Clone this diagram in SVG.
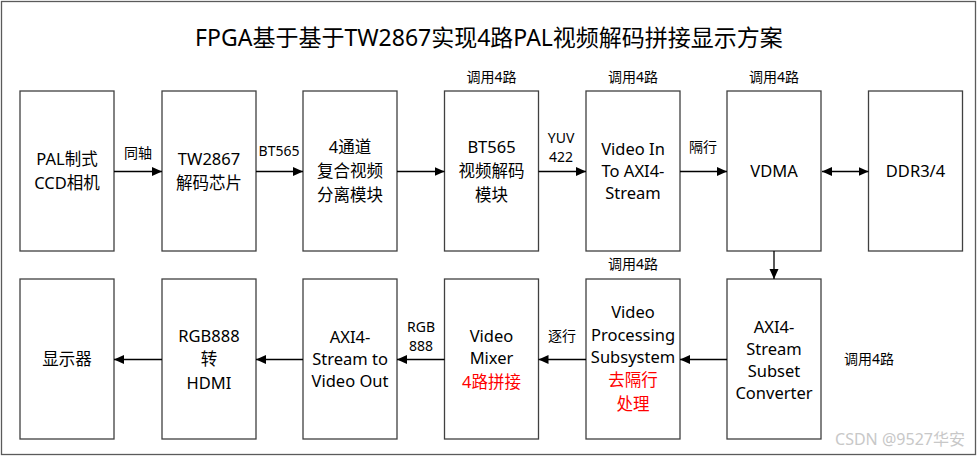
<svg xmlns="http://www.w3.org/2000/svg" width="980" height="456" viewBox="0 0 980 456">
<style>
text{font-family:"Noto Sans","Noto Sans CJK SC",sans-serif;fill:#000;text-anchor:middle}
.box{fill:#fff;stroke:#404040;stroke-width:1.3}
.t{font-size:16.5px}
.l{font-size:14px}
.red{fill:#ff0000}
.c{stroke:#000;stroke-width:1.3;fill:none}
</style>
<defs>
<marker id="ah" markerUnits="userSpaceOnUse" markerWidth="12" markerHeight="10" refX="10" refY="5" orient="auto-start-reverse">
<path d="M0,0.5 L10,5 L0,9.5 Z" fill="#000"/>
</marker>
</defs>
<rect x="1.5" y="1.5" width="974" height="453" fill="#fff" stroke="#5a5a5a" stroke-width="1.3"/>
<text x="489" y="46" style="font-size:23px">FPGA基于基于TW2867实现4路PAL视频解码拼接显示方案</text>

<g id="n1"><rect class="box" x="20" y="91" width="94" height="160"/>
<text class="t" x="67" y="165">PAL制式</text><text class="t" x="67" y="189">CCD相机</text></g>
<g id="n2"><rect class="box" x="162" y="91" width="94" height="160"/>
<text class="t" x="209" y="165">TW2867</text><text class="t" x="209" y="189">解码芯片</text></g>
<g id="n3"><rect class="box" x="303" y="91" width="94" height="160"/>
<text class="t" x="350" y="153">4通道</text><text class="t" x="350" y="177">复合视频</text><text class="t" x="350" y="201">分离模块</text></g>
<g id="n4"><rect class="box" x="444.5" y="91" width="94" height="160"/>
<text class="t" x="491.5" y="153">BT565</text><text class="t" x="491.5" y="177">视频解码</text><text class="t" x="491.5" y="201">模块</text>
<text class="l" x="491.5" y="82">调用4路</text></g>
<g id="n5"><rect class="box" x="586" y="91" width="94" height="160"/>
<text class="t" x="633" y="155">Video In</text><text class="t" x="633" y="177">To AXI4-</text><text class="t" x="633" y="199">Stream</text>
<text class="l" x="633" y="82">调用4路</text></g>
<g id="n6"><rect class="box" x="727" y="91" width="94" height="160"/>
<text class="t" x="774" y="177">VDMA</text>
<text class="l" x="774" y="82">调用4路</text></g>
<g id="n7"><rect class="box" x="868.5" y="91" width="94" height="160"/>
<text class="t" x="915.5" y="177">DDR3/4</text></g>

<g id="n8"><rect class="box" x="20" y="279" width="94" height="160"/>
<text class="t" x="67" y="365">显示器</text></g>
<g id="n9"><rect class="box" x="162" y="279" width="94" height="160"/>
<text class="t" x="209" y="342">RGB888</text><text class="t" x="209" y="365">转</text><text class="t" x="209" y="389">HDMI</text></g>
<g id="n10"><rect class="box" x="303" y="279" width="94" height="160"/>
<text class="t" x="350" y="343">AXI4-</text><text class="t" x="350" y="365">Stream to</text><text class="t" x="350" y="387">Video Out</text></g>
<g id="n11"><rect class="box" x="444.5" y="279" width="94" height="160"/>
<text class="t" x="491.5" y="342">Video</text><text class="t" x="491.5" y="364">Mixer</text><text class="t red" x="491.5" y="388">4路拼接</text></g>
<g id="n12"><rect class="box" x="586" y="279" width="94" height="160"/>
<text class="t" x="633" y="318">Video</text><text class="t" x="633" y="341">Processing</text><text class="t" x="633" y="363">Subsystem</text><text class="t red" x="633" y="386">去隔行</text><text class="t red" x="633" y="410">处理</text>
<text class="l" x="633" y="269">调用4路</text></g>
<g id="n13"><rect class="box" x="727" y="279" width="94" height="160"/>
<text class="t" x="774" y="333">AXI4-</text><text class="t" x="774" y="355">Stream</text><text class="t" x="774" y="377">Subset</text><text class="t" x="774" y="399">Converter</text>
<text class="l" x="869" y="364">调用4路</text></g>

<g id="connectors">
<line class="c" x1="114" y1="171.5" x2="162" y2="171.5" marker-end="url(#ah)"/>
<line class="c" x1="256" y1="171.5" x2="303" y2="171.5" marker-end="url(#ah)"/>
<line class="c" x1="397" y1="171.5" x2="444.5" y2="171.5" marker-end="url(#ah)"/>
<line class="c" x1="538.5" y1="171.5" x2="586" y2="171.5" marker-end="url(#ah)"/>
<line class="c" x1="680" y1="171.5" x2="727" y2="171.5" marker-end="url(#ah)"/>
<line class="c" x1="822" y1="171.5" x2="868.5" y2="171.5" marker-start="url(#ah)" marker-end="url(#ah)"/>
<line class="c" x1="774" y1="251" x2="774" y2="279" marker-end="url(#ah)"/>
<line class="c" x1="727" y1="359.5" x2="680" y2="359.5" marker-end="url(#ah)"/>
<line class="c" x1="586" y1="359.5" x2="538.5" y2="359.5" marker-end="url(#ah)"/>
<line class="c" x1="444.5" y1="359.5" x2="397" y2="359.5" marker-end="url(#ah)"/>
<line class="c" x1="303" y1="359.5" x2="256" y2="359.5" marker-end="url(#ah)"/>
<line class="c" x1="162" y1="359.5" x2="114" y2="359.5" marker-end="url(#ah)"/>
<text class="l" x="138" y="158">同轴</text>
<text class="l" x="279" y="156">BT565</text>
<text class="l" x="561" y="143">YUV</text>
<text class="l" x="561" y="162">422</text>
<text class="l" x="703" y="152">隔行</text>
<text class="l" x="421" y="332">RGB</text>
<text class="l" x="421" y="351">888</text>
<text class="l" x="562" y="341">逐行</text>
</g>
<text x="900" y="445" style="font-size:16px;fill:#c8c8c8">CSDN @9527华安</text>
</svg>
